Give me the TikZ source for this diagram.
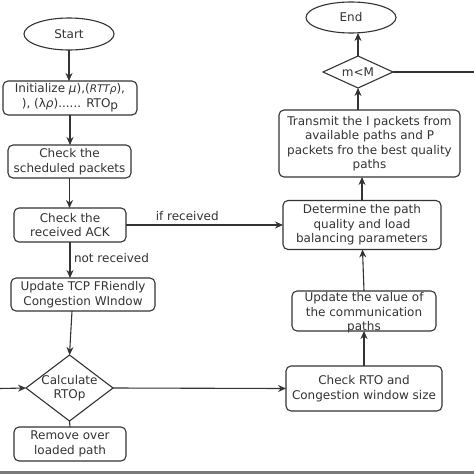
\documentclass[tikz,border=0pt]{standalone}
\usepackage{fontspec}
\setmainfont{DejaVu Sans}
\usetikzlibrary{shapes.geometric,arrows.meta,calc}
\definecolor{ink}{HTML}{333333}
\definecolor{barg}{HTML}{7A7A7A}
\begin{document}
\begin{tikzpicture}[x=1pt,y=-1pt,
  every node/.style={inner sep=0pt, outer sep=0pt},
  shp/.style={draw=ink, line width=1.1pt, fill=white},
  box/.style={shp, rounded corners=5pt},
  oval/.style={shp, ellipse},
  dia/.style={shp, diamond},
  txt/.style={text=ink, align=center, font=\fontsize{12}{14.4}\selectfont},
  conn/.style={draw=ink, line width=1.1pt},
  arr/.style={conn, -{Stealth[length=8pt,width=7pt]}}
]
\useasboundingbox (0,0) rectangle (474,474);
\fill[white] (0,0) rectangle (474,474);
\fill[barg] (0,471) rectangle (474,474);

% shapes
\node[oval, minimum width=90pt, minimum height=32pt] (start) at (69,34) {};
\node[box, minimum width=134pt, minimum height=34pt] (init) at (70,98) {};
\node[box, minimum width=123pt, minimum height=33pt] (sched) at (69.5,161.5) {};
\node[box, minimum width=112pt, minimum height=34pt] (ack) at (70,225) {};
\node[box, minimum width=144pt, minimum height=33pt] (upd) at (83,294.5) {};
\node[dia, minimum width=87pt, minimum height=66pt] (calc) at (69.5,388) {};
\node[box, minimum width=112pt, minimum height=34pt] (rem) at (70,444) {};
\node[box, minimum width=156pt, minimum height=45pt] (rto) at (364,388.5) {};
\node[box, minimum width=144pt, minimum height=40pt] (upv) at (364,311) {};
\node[box, minimum width=158pt, minimum height=49pt] (det) at (362,225) {};
\node[box, minimum width=181pt, minimum height=67pt] (trans) at (369.5,143.5) {};
\node[dia, minimum width=70pt, minimum height=32pt] (mm) at (358,72) {};
\node[oval, minimum width=90pt, minimum height=31pt] (end) at (351,17.5) {};

\coordinate (lin) at (0,388.5);
\coordinate (rout) at (474,72);

% connectors
\draw[arr] (start.south) -- (start.south |- init.north);
\draw[arr] (init.south) -- (init.south |- sched.north);
\draw[arr] (sched.south) -- (sched.south |- ack.north);
\draw[arr] (ack.east) -- (det.west) node[txt, pos=0.39, above=4pt] (lif) {if received};
\draw[arr] (ack.south) -- (ack.south |- upd.north) node[txt, pos=0.45, right=4pt] (lnot) {not received};
\draw[arr] ($(upd.south)+(-11,0)$) -- (calc.north);
\draw[arr] (lin) -- (calc.west);
\draw[arr] (calc.east) -- (rto.west);
\draw[conn] (calc.south) -- (rem.north);
\draw[arr] (rto.north) -- (upv.south);
\draw[arr] (upv.north) -- ($(det.south)+(0.5,0)$);
\draw[arr] (det.north) -- (det.north |- trans.south);
\draw[arr] (mm.south |- trans.north) -- (mm.south);
\draw[arr] (mm.north) -- (mm.north |- end.south);
\draw[conn] (mm.east) -- (rout);

% texts
\node[txt] (tstart) at (start) {Start};
\node[txt] (tinit) at (init) {Initialize {\itshape μ}),({\itshape\fontsize{10.5}{12}\selectfont RTTρ}),\\), (λ{\itshape ρ})...... RTO\raisebox{-0.45ex}{p}};
\node[txt] (tsched) at (sched) {Check the\\scheduled packets};
\node[txt] (tack) at (ack) {Check the\\received ACK};
\node[txt] (tupd) at (upd) {Update TCP FRiendly\\Congestion WIndow};
\node[txt] (tcalc) at (calc) {Calculate\\RTOp};
\node[txt] (trem) at (rem) {Remove over\\loaded path};
\node[txt] (trto) at (rto) {Check RTO and\\Congestion window size};
\node[txt] (tupv) at ($(upv)+(0,2)$) {Update the value of\\the communication\\paths};
\node[txt] (tdet) at (det) {Determine the path\\quality and load\\balancing parameters};
\node[txt] (ttrans) at (trans) {Transmit the I packets from\\available paths and P\\packets fro the best quality\\paths};
\node[txt] (tmm) at (mm) {m<M};
\node[txt] (tend) at (end) {End};
\end{tikzpicture}
\end{document}
